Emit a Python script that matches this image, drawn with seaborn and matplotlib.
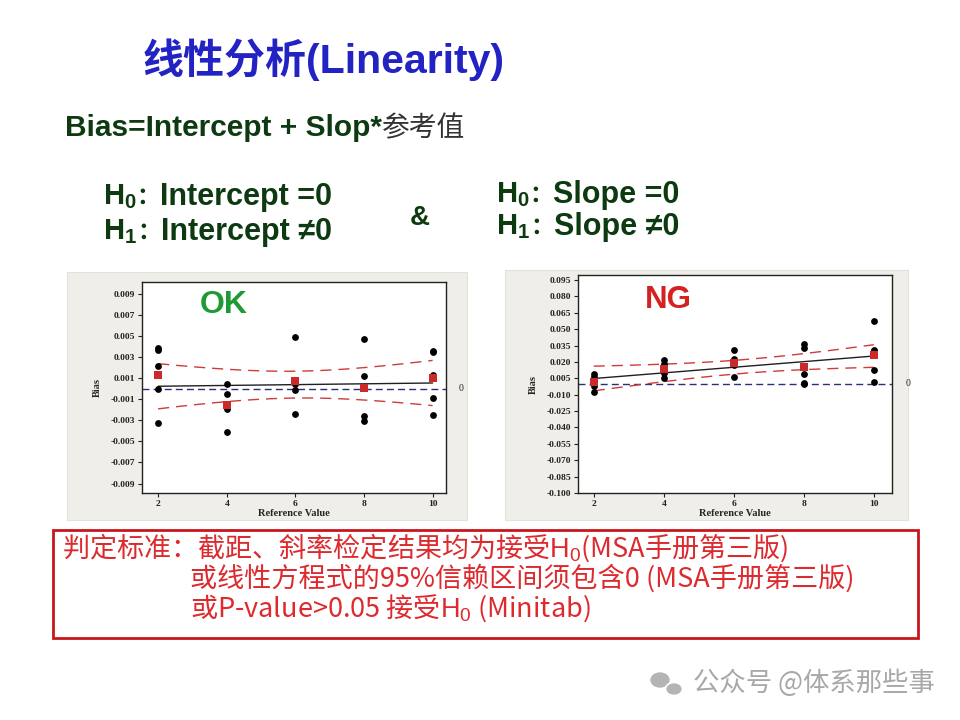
import numpy as np
import pandas as pd
import matplotlib
matplotlib.use("Agg")
import matplotlib.pyplot as plt
import matplotlib.transforms as mtransforms
from matplotlib.patches import Rectangle, Ellipse
import seaborn as sns

# ──────────────────────────────────────────────
# DATA
# ──────────────────────────────────────────────
ref_values = [2, 4, 6, 8, 10]

ok_x = [2, 2, 2, 2, 2,
        4, 4, 4, 4,
        6, 6, 6, 6,
        8, 8, 8, 8,
        10, 10, 10, 10, 10]
ok_bias = [0.0038, 0.0037, 0.0021, 0.0000, -0.0033,
           0.0004, -0.0005, -0.0019, -0.0041,
           0.0049, 0.0004, -0.0001, -0.0024,
           0.0047, 0.0012, -0.0026, -0.0031,
           0.0036, 0.0035, 0.0013, -0.0009, -0.0025]

ng_x = [2, 2, 2, 2,
        4, 4, 4, 4,
        6, 6, 6, 6,
        8, 8, 8, 8, 8,
        10, 10, 10, 10, 10]
ng_bias = [0.0092, 0.0060, -0.0020, -0.0077,
           0.0220, 0.0180, 0.0100, 0.0049,
           0.0312, 0.0230, 0.0168, 0.0060,
           0.0360, 0.0330, 0.0089, 0.0009, -0.0006,
           0.0572, 0.0312, 0.0300, 0.0122, 0.0018]

ok_yticks = [0.009, 0.007, 0.005, 0.003, 0.001, -0.001, -0.003, -0.005, -0.007, -0.009]
ng_yticks = [0.095, 0.080, 0.065, 0.050, 0.035, 0.020, 0.005, -0.010, -0.025,
             -0.040, -0.055, -0.070, -0.085, -0.100]

title = "线性分析(Linearity)"
formula = "Bias=Intercept + Slop*"
formula_cn = "参考值"
hypotheses = [("0", "Intercept =0"), ("1", "Intercept ≠0"),
              ("0", "Slope =0"), ("1", "Slope ≠0")]
criteria = [
    r"判定标准：截距、斜率检定结果均为接受$\mathrm{H_0}$(MSA手册第三版)",
    "或线性方程式的95%信赖区间须包含0 (MSA手册第三版)",
    r"或P-value>0.05 接受$\mathrm{H_0}$ (Minitab)",
]
watermark = "公众号 @体系那些事"
T_CRIT = 2.08   # ~t(0.975, df≈20)

sns.set_theme(style="ticks")
plt.rcParams["font.family"] = ["Liberation Sans", "Noto Sans CJK SC", "DejaVu Sans"]
plt.rcParams["mathtext.fontset"] = "custom"
plt.rcParams["mathtext.rm"] = "Liberation Sans"
plt.rcParams["mathtext.bf"] = "Liberation Sans:bold"
plt.rcParams["mathtext.it"] = "Liberation Sans:italic"

W, H = 960, 720
fx = lambda px: px / W
fy = lambda py: 1 - py / H

fig = plt.figure(figsize=(9.6, 7.2), dpi=100, facecolor="white")
fig.canvas.draw()
renderer = fig.canvas.get_renderer()


def linearity_panel(rect, xs, ys, yticks, ylim, xlim):
    ax = fig.add_axes(rect, zorder=2)
    df = pd.DataFrame({"ref": xs, "bias": ys})
    means = df.groupby("ref", as_index=False)["bias"].mean()

    # regression fit and 95% CI of the fit
    slope, icpt = np.polyfit(df["ref"], df["bias"], 1)
    resid = df["bias"] - (icpt + slope * df["ref"])
    n = len(df)
    s = np.sqrt((resid ** 2).sum() / (n - 2))
    xbar = df["ref"].mean()
    sxx = ((df["ref"] - xbar) ** 2).sum()
    grid = np.linspace(min(ref_values), max(ref_values), 60)
    fit = icpt + slope * grid
    half = T_CRIT * s * np.sqrt(1 / n + (grid - xbar) ** 2 / sxx)

    ax.axhline(0, color="#2b2f7a", lw=1.0, ls=(0, (5, 3)), zorder=1)
    sns.lineplot(x=grid, y=fit, ax=ax, color="#202020", lw=1.0, zorder=2)
    for band in (fit + half, fit - half):
        sns.lineplot(x=grid, y=band, ax=ax, color="#d03a3a", lw=1.0,
                     zorder=2).lines[-1].set_dashes((8, 5))
    sns.scatterplot(data=df, x="ref", y="bias", ax=ax, color="black",
                    marker="o", s=24, linewidth=0, zorder=3)
    sns.scatterplot(data=means, x="ref", y="bias", ax=ax, color="#cc2a2a",
                    marker="s", s=32, linewidth=0, zorder=4)

    ax.set_xlim(*xlim)
    ax.set_ylim(*ylim)
    ax.set_xticks(ref_values)
    ax.set_yticks(yticks)
    ax.set_yticklabels([f"{v:.3f}" for v in yticks])
    ax.set_facecolor("white")
    for sp in ax.spines.values():
        sp.set_visible(True)
        sp.set_color("#222222")
        sp.set_linewidth(1.0)
    ax.tick_params(axis="both", direction="out", length=3, width=0.8,
                   labelsize=6.8, colors="#222222", pad=2)
    for lab in ax.get_xticklabels() + ax.get_yticklabels():
        lab.set_family("Liberation Serif")
        lab.set_fontweight("bold")
    ax.set_xlabel("Reference Value", family="Liberation Serif", fontweight="bold",
                  fontsize=7.5, labelpad=1)
    ax.set_ylabel("Bias", family="Liberation Serif", fontweight="bold",
                  fontsize=7.5, labelpad=6)
    trans = mtransforms.blended_transform_factory(ax.transAxes, ax.transData)
    ax.text(1.05, 0, "0", transform=trans, ha="center", va="center",
            family="Liberation Serif", fontsize=7, color="#222222", clip_on=False)
    return ax


# light panels behind the two plots
for (x0, y0, x1, y1) in [(67, 272, 467, 520), (505, 270, 908, 520)]:
    fig.patches.append(Rectangle((fx(x0), fy(y1)), fx(x1) - fx(x0), fy(y0) - fy(y1),
                                 transform=fig.transFigure, facecolor="#efeee8",
                                 edgecolor="#e2e1da", lw=0.8, zorder=-5))

linearity_panel([fx(142), fy(493), fx(446) - fx(142), fy(282) - fy(493)],
                ok_x, ok_bias, ok_yticks, (-0.0099, 0.0101), (1.53, 10.39))
linearity_panel([fx(578), fy(493), fx(892) - fx(578), fy(275) - fy(493)],
                ng_x, ng_bias, ng_yticks, (-0.1, 0.0996), (1.55, 10.52))

fig.text(fx(200), fy(305), "OK", color="#1e9a35", fontsize=23, fontweight="bold",
         ha="left", va="center", zorder=6)
fig.text(fx(645), fy(300), "NG", color="#d42222", fontsize=22.5, fontweight="bold",
         ha="left", va="center", zorder=6)

# ──────────────────────────────────────────────
# slide text
# ──────────────────────────────────────────────
fig.text(fx(143), fy(60), title, color="#2323c4", fontsize=29.5, fontweight="bold",
         ha="left", va="center")

green = "#0d3a10"
t = fig.text(fx(65), fy(128), formula, color=green, fontsize=21.5, fontweight="bold",
             ha="left", va="center")
bb = t.get_window_extent(renderer)
fig.text(bb.x1 / W, fy(128), formula_cn, color="#333333", fontsize=20,
         family=["Noto Sans CJK SC"], fontweight="light", ha="left", va="center")

hyp_pos = [(103, 197), (103, 232), (496, 195), (496, 227)]
for (sub, rest), (px, py) in zip(hypotheses, hyp_pos):
    h = fig.text(fx(px), fy(py), r"$\mathbf{H_%s}$" % sub, color=green, fontsize=21,
                 ha="left", va="center")
    hb = h.get_window_extent(renderer)
    c = fig.text(hb.x1 / W, fy(py), "：", color=green, fontsize=17,
                 family=["Noto Sans CJK SC"], fontweight="bold", ha="left", va="center")
    cb = c.get_window_extent(renderer)
    fig.text(cb.x1 / W, fy(py), rest, color=green, fontsize=22,
             fontweight="bold", ha="left", va="center")

fig.text(fx(420), fy(218), "&", color=green, fontsize=20, fontweight="bold",
         ha="center", va="center")

# criteria box
fig.patches.append(Rectangle((fx(53), fy(638)), fx(918) - fx(53), fy(530) - fy(638),
                             transform=fig.transFigure, facecolor="none",
                             edgecolor="#c8161d", lw=2.0, zorder=5))
red = "#dc2a2e"
crit_pos = [(62, 548), (190, 578), (190, 608)]
for line, (px, py) in zip(criteria, crit_pos):
    fig.text(fx(px), fy(py), line, color=red, fontsize=19.5, ha="left", va="center",
             family=["Noto Sans CJK SC"])

# watermark with a small chat-bubble icon
for (cx, cy, w, hgt) in [(660, 680, 21, 17), (674, 689, 17, 13)]:
    fig.patches.append(Ellipse((fx(cx), fy(cy)), w / W, hgt / H,
                               transform=fig.transFigure, facecolor="#b4b4b4",
                               edgecolor="white", lw=1.2, zorder=5))
fig.text(fx(935), fy(683), watermark, color="#a8a8a8", fontsize=19,
         ha="right", va="center", family=["Noto Sans CJK SC"])

fig.savefig("out.png", dpi=100, facecolor="white")
